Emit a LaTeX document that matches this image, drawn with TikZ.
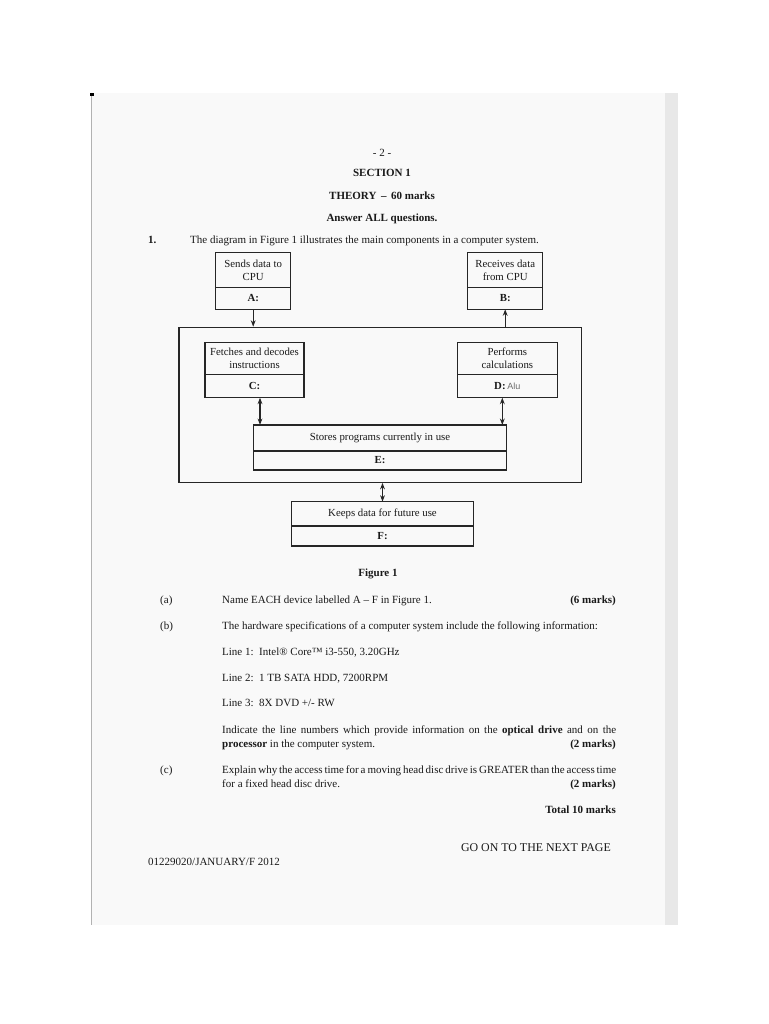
\documentclass[tikz,border=0pt]{standalone}
\usepackage{fontspec}
\setmainfont{Liberation Serif}
\newfontfamily\handfont{Liberation Sans}
\usepackage{xcolor}
\usetikzlibrary{arrows.meta,positioning,backgrounds}
\definecolor{exink}{rgb}{0.10,0.10,0.10}
\definecolor{exline}{rgb}{0.15,0.15,0.15}
\definecolor{expaper}{rgb}{0.975,0.975,0.975}
\definecolor{exstrip}{rgb}{0.91,0.91,0.91}
\definecolor{expencil}{rgb}{0.42,0.42,0.42}
\newcommand{\justline}[1]{\makebox[394pt][s]{#1}}

\begin{document}
\begin{tikzpicture}[
  x=1pt, y=-1pt,
  font=\fontsize{11}{14}\selectfont,
  text=exink,
  desc/.style={draw=exline, line width=1.1pt, minimum width=#1, align=center,
               inner sep=1pt, outer sep=0pt, font=\fontsize{10.8}{13.2}\selectfont},
  lbl/.style={draw=exline, line width=1.1pt, minimum width=#1, inner sep=1pt,
              outer sep=0pt, font=\fontsize{10.8}{13.2}\selectfont\bfseries},
  txt/.style={anchor=base west, inner sep=0pt},
  rtxt/.style={anchor=base east, inner sep=0pt, font=\fontsize{11}{14}\selectfont\bfseries},
  ctxt/.style={anchor=base, inner sep=0pt, font=\fontsize{11}{14}\selectfont\bfseries},
  arr/.style={-{Stealth[length=6.5pt,width=4.8pt]}, exline, line width=1.1pt},
  dbl/.style={{Stealth[length=6.5pt,width=4.8pt]}-{Stealth[length=6.5pt,width=4.8pt]}, exline, line width=1.1pt}
]
\useasboundingbox (0,0) rectangle (768,1024);

% --- scanned sheet ---
\fill[white] (0,0) rectangle (768,1024);
\fill[expaper] (91,93) rectangle (678,925);
\fill[exstrip] (665,93) rectangle (678,925);
\draw[gray!60, line width=0.8pt] (91,93) -- (91,925);
\fill[black] (90,93) rectangle (94,96);

% --- heading ---
\node[anchor=base, inner sep=0pt] (pageno) at (382,156.5) {- 2 -};
\node[ctxt] (sect) at (382,176.5) {SECTION 1};
\node[ctxt] (theory) at (382,199.5) {THEORY \,–\, 60 marks};
\node[ctxt] (answer) at (382,221.5) {Answer ALL questions.};
\node[txt, font=\fontsize{11}{14}\selectfont\bfseries] (qone) at (148,243.5) {1.};
\node[txt] (intro) at (190,243.5) {The diagram in Figure 1 illustrates the main components in a computer system.};

% --- input / output devices ---
\node[desc=75pt, minimum height=35pt] (inT) at (253.2,270.2) {Sends data to\\CPU};
\node[lbl=75pt, minimum height=21.6pt, below=0pt of inT] (inL) {A:};
\node[desc=75pt, minimum height=35pt] (outT) at (505.2,270.2) {Receives data\\from CPU};
\node[lbl=75pt, minimum height=21.6pt, below=0pt of outT] (outL) {B:};

% --- CPU enclosure ---
\node[draw=exline, line width=1.1pt, minimum width=402.7pt, minimum height=155pt,
      inner sep=0pt] (cpu) at (380.35,404.8) {};

\node[desc=99pt, minimum height=31.6pt] (cuT) at (254.5,358.5) {Fetches and decodes\\instructions};
\node[lbl=99pt, minimum height=23.4pt, below=0pt of cuT] (cuL) {C:};
\node[desc=100pt, minimum height=31.6pt] (aluT) at (507.3,358.5) {Performs\\calculations};
\node[lbl=100pt, minimum height=23.4pt, below=0pt of aluT] (aluL)
  {D:\,{\handfont\mdseries\fontsize{9}{10}\selectfont\color{expencil}Alu}};

\node[desc=253.4pt, minimum height=26pt] (memT) at (380,438) {Stores programs currently in use};
\node[lbl=253.4pt, minimum height=19pt, below=0pt of memT] (memL) {E:};

% --- secondary storage ---
\node[desc=181.6pt, minimum height=24.3pt] (stoT) at (382.5,513.85) {Keeps data for future use};
\node[lbl=181.6pt, minimum height=20pt, below=0pt of stoT] (stoL) {F:};

% connectors
\draw[arr] (inL.south) -- (inL.south |- cpu.north);
\draw[arr] (outL.south |- cpu.north) -- (outL.south);
\draw[dbl] ([xshift=5.5pt]cuL.south) -- ([xshift=5.5pt]cuL.south |- memT.north);
\draw[dbl] ([xshift=-5pt]aluL.south) -- ([xshift=-5pt]aluL.south |- memT.north);
\draw[dbl] (stoT.north |- cpu.south) -- (stoT.north);

\node[ctxt] (figcap) at (378,576.5) {Figure 1};

% --- questions ---
\node[txt] (pa) at (160,603.5) {(a)};
\node[txt] (qa) at (222,603.5) {Name EACH device labelled A – F in Figure 1.};
\node[rtxt] (ma) at (616,603.5) {(6 marks)};

\node[txt] (pb) at (160,629.5) {(b)};
\node[txt] (qb) at (222,629.5) {The hardware specifications of a computer system include the following information:};
\node[txt] (lone) at (222,655.5) {Line 1:\ \ Intel® Core™ i3-550, 3.20GHz};
\node[txt] (ltwo) at (222,681.5) {Line 2:\ \ 1 TB SATA HDD, 7200RPM};
\node[txt] (lthree) at (222,706.5) {Line 3:\ \ 8X DVD +/- RW};
\node[txt] (qbi) at (222,733.5) {\justline{Indicate the line numbers which provide information on the \textbf{optical drive} and on the}};
\node[txt] (qbii) at (222,747.5) {\textbf{processor} in the computer system.};
\node[rtxt] (mb) at (616,747.5) {(2 marks)};

\node[txt] (pc) at (160,773.5) {(c)};
\node[txt] (qc) at (222,773.5) {\justline{Explain why the access time for a moving head disc drive is GREATER than the access time}};
\node[txt] (qcii) at (222,787.5) {for a fixed head disc drive.};
\node[rtxt] (mc) at (616,787.5) {(2 marks)};

\node[rtxt] (total) at (616,813.5) {Total 10 marks};

% --- footer ---
\node[anchor=base east, inner sep=0pt, font=\fontsize{11.9}{14}\selectfont] (goon) at (611,851.5) {GO ON TO THE NEXT PAGE};
\node[txt] (code) at (148,865.5) {01229020/JANUARY/F 2012};

\end{tikzpicture}
\end{document}
